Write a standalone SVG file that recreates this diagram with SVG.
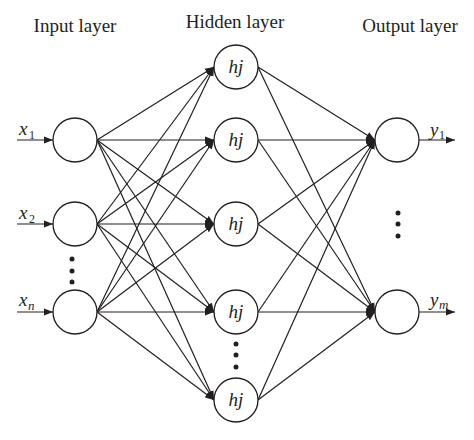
<svg xmlns="http://www.w3.org/2000/svg" width="474" height="440" viewBox="0 0 474 440">
<style>
.n{fill:#fff;stroke:#231f20;stroke-width:1.3}
.c line{stroke:#231f20;stroke-width:1.2;marker-end:url(#ah)}
.t{font-family:"Liberation Serif",serif;font-size:19px;fill:#231f20}
.i{font-family:"Liberation Serif",serif;font-style:italic;font-size:19px;fill:#231f20}
.s{font-family:"Liberation Serif",serif;font-size:12px;fill:#231f20}
.d{fill:#231f20}
</style>
<defs>
<marker id="ah" markerUnits="userSpaceOnUse" markerWidth="10" markerHeight="8" refX="9" refY="4" orient="auto">
<path d="M0,0.5 L9,4 L0,7.5 Z" fill="#231f20"/>
</marker>
</defs>
<text class="t" x="75" y="32" text-anchor="middle">Input layer</text>
<text class="t" x="235" y="28" text-anchor="middle">Hidden layer</text>
<text class="t" x="410" y="32" text-anchor="middle">Output layer</text>
<g class="c" id="connectors">
<line x1="17" y1="140" x2="53" y2="140"/>
<line x1="17" y1="224" x2="53" y2="224"/>
<line x1="17" y1="312" x2="53" y2="312"/>
<line x1="97" y1="140" x2="214" y2="67"/>
<line x1="97" y1="140" x2="214" y2="140"/>
<line x1="97" y1="140" x2="214" y2="224"/>
<line x1="97" y1="140" x2="214" y2="312"/>
<line x1="97" y1="140" x2="214" y2="400"/>
<line x1="97" y1="224" x2="214" y2="67"/>
<line x1="97" y1="224" x2="214" y2="140"/>
<line x1="97" y1="224" x2="214" y2="224"/>
<line x1="97" y1="224" x2="214" y2="312"/>
<line x1="97" y1="224" x2="214" y2="400"/>
<line x1="97" y1="312" x2="214" y2="67"/>
<line x1="97" y1="312" x2="214" y2="140"/>
<line x1="97" y1="312" x2="214" y2="224"/>
<line x1="97" y1="312" x2="214" y2="312"/>
<line x1="97" y1="312" x2="214" y2="400"/>
<line x1="258" y1="67" x2="375" y2="140"/>
<line x1="258" y1="140" x2="375" y2="140"/>
<line x1="258" y1="224" x2="375" y2="140"/>
<line x1="258" y1="312" x2="375" y2="140"/>
<line x1="258" y1="400" x2="375" y2="140"/>
<line x1="258" y1="67" x2="375" y2="312"/>
<line x1="258" y1="140" x2="375" y2="312"/>
<line x1="258" y1="224" x2="375" y2="312"/>
<line x1="258" y1="312" x2="375" y2="312"/>
<line x1="258" y1="400" x2="375" y2="312"/>
<line x1="419" y1="140" x2="455" y2="140"/>
<line x1="419" y1="312" x2="455" y2="312"/>
</g>
<g id="in1"><circle class="n" cx="75" cy="140" r="22"/><text class="i" x="19" y="135">x</text><text class="s" x="29" y="139">1</text></g>
<g id="in2"><circle class="n" cx="75" cy="224" r="22"/><text class="i" x="19" y="219">x</text><text class="s" x="29" y="223">2</text></g>
<g id="inn"><circle class="n" cx="75" cy="312" r="22"/><text class="i" x="19" y="306">x</text><text class="i" x="28" y="310" style="font-size:13px">n</text></g>
<g id="indots"><circle class="d" cx="72" cy="259" r="2.5"/><circle class="d" cx="72" cy="271" r="2.5"/><circle class="d" cx="72" cy="282" r="2.5"/></g>
<g id="h1"><circle class="n" cx="236" cy="67" r="22"/><text class="i" x="236" y="73" text-anchor="middle">hj</text></g>
<g id="h2"><circle class="n" cx="236" cy="140" r="22"/><text class="i" x="236" y="146" text-anchor="middle">hj</text></g>
<g id="h3"><circle class="n" cx="236" cy="224" r="22"/><text class="i" x="236" y="230" text-anchor="middle">hj</text></g>
<g id="h4"><circle class="n" cx="236" cy="312" r="22"/><text class="i" x="236" y="318" text-anchor="middle">hj</text></g>
<g id="h5"><circle class="n" cx="236" cy="400" r="22"/><text class="i" x="236" y="406" text-anchor="middle">hj</text></g>
<g id="hdots"><circle class="d" cx="236" cy="344" r="2.5"/><circle class="d" cx="236" cy="355" r="2.5"/><circle class="d" cx="236" cy="367" r="2.5"/></g>
<g id="o1"><circle class="n" cx="397" cy="140" r="22"/><text class="i" x="430" y="136">y</text><text class="s" x="439" y="139">1</text></g>
<g id="om"><circle class="n" cx="397" cy="312" r="22"/><text class="i" x="430" y="306">y</text><text class="i" x="439" y="309" style="font-size:13px">m</text></g>
<g id="odots"><circle class="d" cx="398" cy="213" r="2.5"/><circle class="d" cx="398" cy="224" r="2.5"/><circle class="d" cx="398" cy="236" r="2.5"/></g>
</svg>
